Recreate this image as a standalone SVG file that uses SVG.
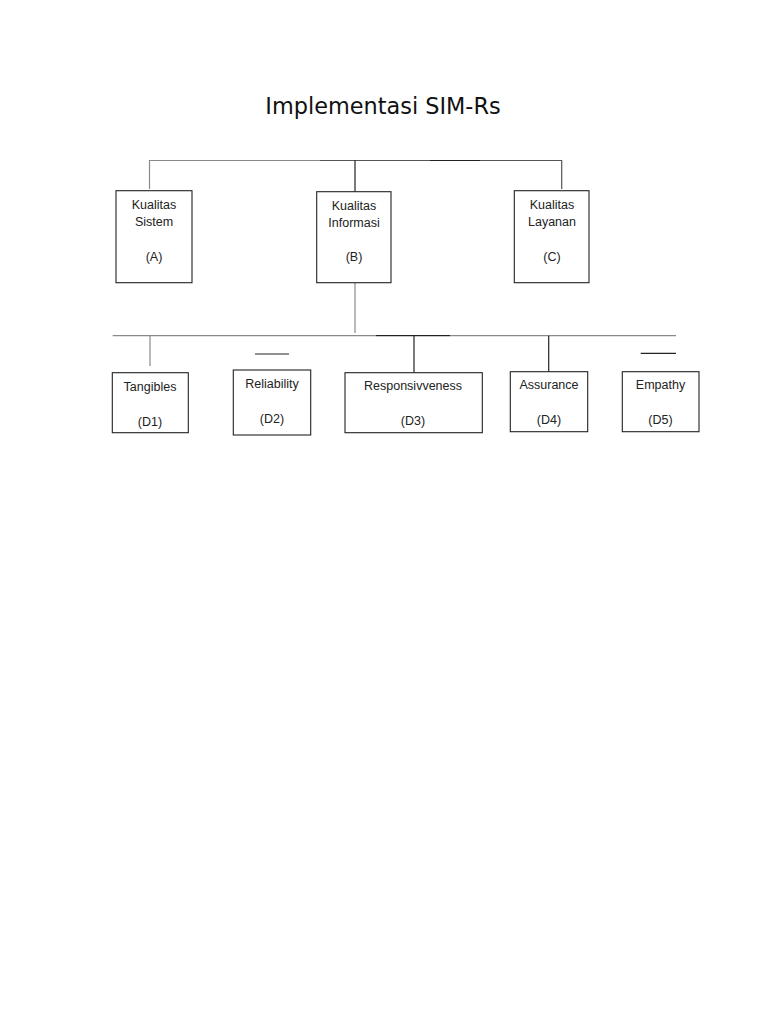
<svg xmlns="http://www.w3.org/2000/svg" width="768" height="1024" viewBox="0 0 768 1024">
<style>
.box{fill:#fff;stroke:#222;stroke-width:1.1}
.t{font-family:"Liberation Sans","Open Sans",sans-serif;font-size:12.5px;fill:#222;text-anchor:middle}
.title{font-family:"DejaVu Sans",sans-serif;font-size:22.4px;fill:#111;text-anchor:middle}
.c{fill:none;stroke-width:1.2}
.g{stroke:#8a8a8a}
.d{stroke:#222}
.m{stroke:#555}
</style>
<rect width="768" height="1024" fill="#fff"/>
<text class="title" x="383" y="113.5">Implementasi SIM-Rs</text>
<g id="connectors">
<path class="c g" d="M149.5 189V160.5H320"/>
<path class="c m" d="M320 160.5H430"/>
<path class="c d" d="M430 160.5H480"/>
<path class="c m" d="M480 160.5H561.7V189"/>
<path class="c d" d="M355 160.5V191.7"/>
<path class="c g" d="M355 283V333"/>
<path class="c g" d="M112.7 335.7H376"/>
<path class="c d" d="M376 335.7H450"/>
<path class="c g" d="M450 335.7H676"/>
<path class="c g" d="M150 335.7V366"/>
<path class="c d" d="M414 335.7V372.7"/>
<path class="c d" d="M548.7 335.7V371.7"/>
<path class="c d" d="M255 354H289"/>
<path class="c d" d="M640.7 353.3H676"/>
</g>
<g id="nodeA">
<rect class="box" x="116" y="190.7" width="76" height="92"/>
<text class="t" x="154" y="209">Kualitas</text>
<text class="t" x="154" y="226">Sistem</text>
<text class="t" x="154" y="261">(A)</text>
</g>
<g id="nodeB">
<rect class="box" x="316.7" y="191.7" width="74.3" height="91"/>
<text class="t" x="354" y="210">Kualitas</text>
<text class="t" x="354" y="227">Informasi</text>
<text class="t" x="354" y="261">(B)</text>
</g>
<g id="nodeC">
<rect class="box" x="514.3" y="190.7" width="74.7" height="92"/>
<text class="t" x="552" y="209">Kualitas</text>
<text class="t" x="552" y="226">Layanan</text>
<text class="t" x="552" y="261">(C)</text>
</g>
<g id="nodeD1">
<rect class="box" x="112.3" y="372.7" width="76" height="60"/>
<text class="t" x="150" y="391">Tangibles</text>
<text class="t" x="150" y="426">(D1)</text>
</g>
<g id="nodeD2">
<rect class="box" x="233.3" y="370" width="77.4" height="65"/>
<text class="t" x="272" y="388">Reliability</text>
<text class="t" x="272" y="423">(D2)</text>
</g>
<g id="nodeD3">
<rect class="box" x="345" y="372.7" width="137.3" height="60"/>
<text class="t" x="413" y="390">Responsivveness</text>
<text class="t" x="413" y="425">(D3)</text>
</g>
<g id="nodeD4">
<rect class="box" x="510.3" y="371.7" width="77.4" height="60"/>
<text class="t" x="549" y="389">Assurance</text>
<text class="t" x="549" y="424">(D4)</text>
</g>
<g id="nodeD5">
<rect class="box" x="622.3" y="371.7" width="76.7" height="60"/>
<text class="t" x="660.5" y="389">Empathy</text>
<text class="t" x="660.5" y="424">(D5)</text>
</g>
</svg>
